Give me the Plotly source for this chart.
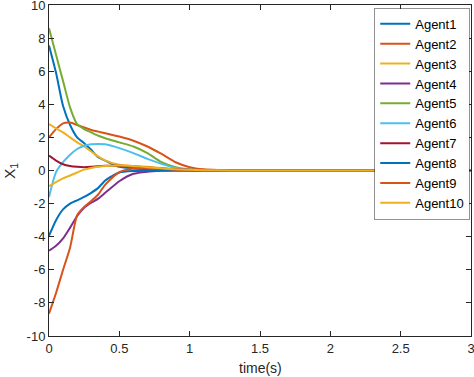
import plotly.graph_objects as go

t = [0, 0.05, 0.1, 0.15, 0.2, 0.25, 0.3, 0.35, 0.4, 0.5, 0.6, 0.7, 0.8, 0.9, 1.0, 1.1, 1.2, 1.4, 1.6, 2.0, 3.0]

agent1 = [7.55, 5.9, 3.9, 2.75, 2.0, 1.65, 1.25, 0.8, 0.6, 0.22, 0.12, 0.06, 0.03, 0.02, 0.01, 0, 0, 0, 0, 0, 0]
agent2 = [2.0, 2.5, 2.85, 2.9, 2.75, 2.6, 2.45, 2.35, 2.25, 2.05, 1.8, 1.45, 1.0, 0.5, 0.2, 0.07, 0.03, 0.0, 0, 0, 0]
agent3 = [2.8, 2.55, 2.3, 2.0, 1.7, 1.45, 1.15, 0.85, 0.6, 0.35, 0.27, 0.22, 0.15, 0.1, 0.05, 0.02, 0.01, 0, 0, 0, 0]
agent4 = [-4.85, -4.55, -4.1, -3.45, -2.75, -2.25, -1.95, -1.7, -1.35, -0.65, -0.2, -0.07, -0.02, 0, 0, 0, 0, 0, 0, 0, 0]
agent5 = [8.6, 7.0, 5.4, 3.8, 2.8, 2.5, 2.3, 2.1, 1.95, 1.7, 1.45, 1.05, 0.5, 0.2, 0.06, 0.02, 0.01, 0, 0, 0, 0]
agent6 = [-1.6, -0.1, 0.5, 0.95, 1.3, 1.5, 1.58, 1.6, 1.58, 1.35, 1.05, 0.7, 0.4, 0.15, 0.05, 0.02, 0, 0, 0, 0, 0]
agent7 = [0.9, 0.6, 0.38, 0.27, 0.22, 0.2, 0.22, 0.26, 0.28, 0.28, 0.24, 0.18, 0.12, 0.07, 0.04, 0.02, 0.01, 0, 0, 0, 0]
agent8 = [-3.95, -3.0, -2.35, -2.0, -1.8, -1.6, -1.35, -1.05, -0.6, -0.12, -0.03, -0.01, 0, 0, 0, 0, 0, 0, 0, 0, 0]
agent9 = [-8.65, -7.4, -6.0, -4.65, -2.7, -2.2, -1.85, -1.45, -0.85, -0.1, 0.12, 0.14, 0.1, 0.05, 0.02, 0.01, 0, 0, 0, 0, 0]
agent10 = [-0.95, -0.7, -0.48, -0.3, -0.12, 0.05, 0.15, 0.22, 0.27, 0.3, 0.27, 0.2, 0.13, 0.07, 0.04, 0.02, 0.01, 0, 0, 0, 0]

names = ["Agent1", "Agent2", "Agent3", "Agent4", "Agent5", "Agent6", "Agent7", "Agent8", "Agent9", "Agent10"]
series = [agent1, agent2, agent3, agent4, agent5, agent6, agent7, agent8, agent9, agent10]
colors = ["#0072BD", "#D95319", "#EDB120", "#7E2F8E", "#77AC30", "#4DBEEE", "#A2142F", "#0072BD", "#D95319", "#EDB120"]

x_ticks = [0, 0.5, 1, 1.5, 2, 2.5, 3]
y_ticks = [-10, -8, -6, -4, -2, 0, 2, 4, 6, 8, 10]

fig = go.Figure()
for name, ys, c in zip(names, series, colors):
    fig.add_trace(go.Scatter(x=t, y=ys, name=name, mode="lines",
                             line=dict(color=c, width=2, shape="spline", smoothing=0.6)))

axis_common = dict(showgrid=False, zeroline=False, showline=True, linecolor="#262626", linewidth=1,
                   mirror="ticks", ticks="inside", ticklen=5, tickcolor="#262626",
                   automargin=False, ticklabeloverflow="allow",
                   tickfont=dict(family="Liberation Sans, Arial", size=13, color="#262626"))

fig.update_layout(
    width=474, height=377,
    margin=dict(l=49, r=3, t=5, b=41),
    paper_bgcolor="white", plot_bgcolor="white",
    font=dict(family="Liberation Sans, Arial", color="#262626"),
    xaxis=dict(range=[0, 3], tickvals=x_ticks, ticktext=[str(v) for v in x_ticks], **axis_common),
    yaxis=dict(range=[-10, 10], tickvals=y_ticks, ticktext=[str(v) for v in y_ticks], **axis_common),
    legend=dict(x=0.997, y=0.99, xanchor="right", yanchor="top", bgcolor="white",
                bordercolor="#262626", borderwidth=0.5, font=dict(size=13, color="black"),
                tracegroupgap=0, itemwidth=30),
    showlegend=True,
    annotations=[
        dict(text="time(s)", xref="paper", yref="paper", x=0.5, y=-0.098, xanchor="center",
             yanchor="middle", showarrow=False, font=dict(size=14, color="#262626")),
        dict(text="X<sub>1</sub>", xref="paper", yref="paper", x=-0.092, y=0.5, xanchor="center",
             yanchor="middle", showarrow=False, textangle=-90, font=dict(size=15, color="#262626")),
    ],
)

fig.write_html("out.html", config={"displayModeBar": False},
               post_script="document.body.style.margin='0';document.body.style.overflow='hidden';")
